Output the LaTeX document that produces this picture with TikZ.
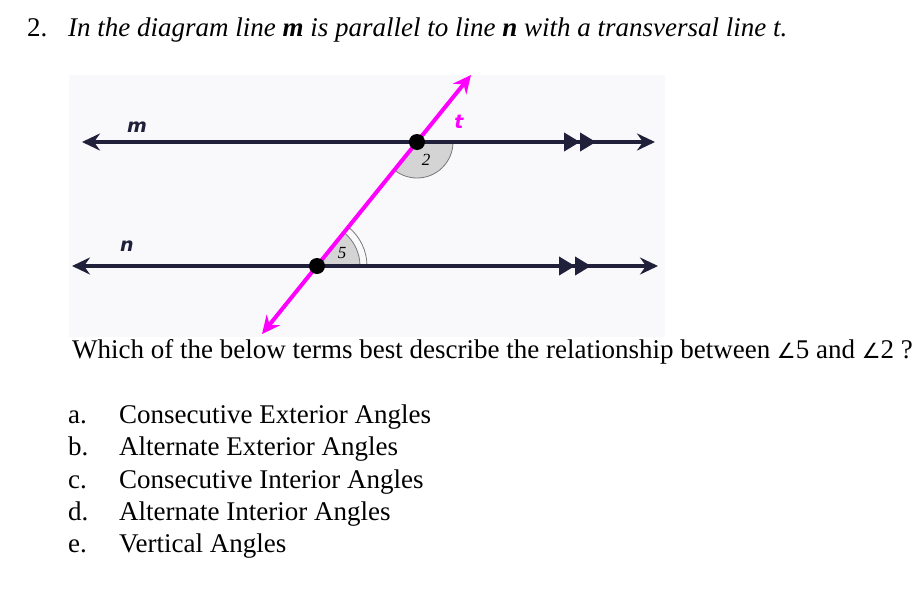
\documentclass[tikz,border=0pt]{standalone}
\usepackage{fontspec}
\setmainfont{Liberation Serif}
\newfontfamily\labfont{DejaVu Sans}
\newfontfamily\angfont{DejaVu Sans ExtraLight}
\usetikzlibrary{arrows.meta,calc}
\definecolor{navy}{RGB}{32,32,58}
\definecolor{magen}{RGB}{255,0,255}
\definecolor{sector}{RGB}{212,212,212}
\definecolor{sectorline}{RGB}{120,120,120}
\definecolor{panel}{RGB}{249,249,251}
\newcommand{\angsym}{{\labfont\fontsize{21}{24}\selectfont ∠}}
\tikzset{
  txt/.style={anchor=base west, inner sep=0pt, font=\fontsize{27}{31}\selectfont},
  parline/.style={draw=navy, line width=4pt, {Stealth[length=18pt,width=17pt,inset=6pt]}-{Stealth[length=18pt,width=17pt,inset=6pt]}},
  parmark/.style={navy, line width=4pt, -{Triangle[length=16pt,width=18pt]Triangle[length=16pt,width=18pt]}},
  transline/.style={draw=magen, line width=4pt, {Stealth[length=18pt,width=17pt,inset=6pt]}-{Stealth[length=18pt,width=17pt,inset=6pt]}},
  dot/.style={circle, fill=black, minimum size=16pt, inner sep=0pt},
  linelab/.style={inner sep=0pt, font=\labfont\bfseries\itshape\fontsize{19}{22}\selectfont},
  anglab/.style={inner sep=0pt, font=\itshape\fontsize{17}{20}\selectfont},
  sect/.style={fill=sector, draw=sectorline, line width=0.8pt}
}
\begin{document}
\begin{tikzpicture}[x=1pt,y=-1pt]
\useasboundingbox (0,0) rectangle (919,616);
\fill[white] (0,0) rectangle (919,616);
\fill[panel] (69,75) rectangle (665,337);

% key points
\coordinate (P) at (417,142);
\coordinate (Q) at (317,266);
\coordinate (mL) at (82,142);
\coordinate (mR) at (655,142);
\coordinate (mK) at (596,142);
\coordinate (mJ) at (560,142);
\coordinate (nL) at (72,266);
\coordinate (nR) at (658,266);
\coordinate (nK) at (591,266);
\coordinate (nJ) at (555,266);
\coordinate (tU) at (471,75);
\coordinate (tD) at (262,334);

% angle sectors
\path[sect] (P) -- ++(0:36) arc[start angle=0, end angle=128.9, radius=36] -- cycle;
\path[fill=sector] (Q) -- ++(0:43) arc[start angle=0, end angle=-51.1, radius=43] -- cycle;
\draw[sectorline, line width=0.8pt] ($(Q)+(0:43)$) arc[start angle=0, end angle=-51.1, radius=43];
\draw[sectorline, line width=0.8pt] ($(Q)+(0:50)$) arc[start angle=0, end angle=-51.1, radius=50];

% parallel lines
\draw[parline] (mL) -- (mR);
\draw[parmark] (mJ) -- (mK);
\draw[parline] (nL) -- (nR);
\draw[parmark] (nJ) -- (nK);

% transversal
\draw[transline] (tD) -- (tU);

% intersection dots
\node[dot] (dP) at (P) {};
\node[dot] (dQ) at (Q) {};

% labels
\node[linelab, navy] (lm) at (137,127) {m};
\node[linelab, navy] (ln) at (127,246) {n};
\node[linelab, magen] (lt) at (459,122) {t};
\node[anglab] (a2) at (426,160) {2};
\node[anglab] (a5) at (342,253) {5};

% texts
\node[txt] (num) at (27,36) {2.};
\node[txt] (title) at (68,36) {\itshape In the diagram line \textbf{m} is parallel to line \textbf{n} with a transversal line t.};
\node[txt] (q) at (72,358) {Which of the below terms best describe the relationship between \angsym5 and \angsym2 ?};
\node[txt] (oa) at (68,423) {a.};
\node[txt] (ta) at (119,423) {Consecutive Exterior Angles};
\node[txt] (ob) at (68,455) {b.};
\node[txt] (tb) at (119,455) {Alternate Exterior Angles};
\node[txt] (oc) at (68,488) {c.};
\node[txt] (tc) at (119,488) {Consecutive Interior Angles};
\node[txt] (od) at (68,520) {d.};
\node[txt] (td) at (119,520) {Alternate Interior Angles};
\node[txt] (oe) at (68,552) {e.};
\node[txt] (te) at (119,552) {Vertical Angles};
\end{tikzpicture}
\end{document}
